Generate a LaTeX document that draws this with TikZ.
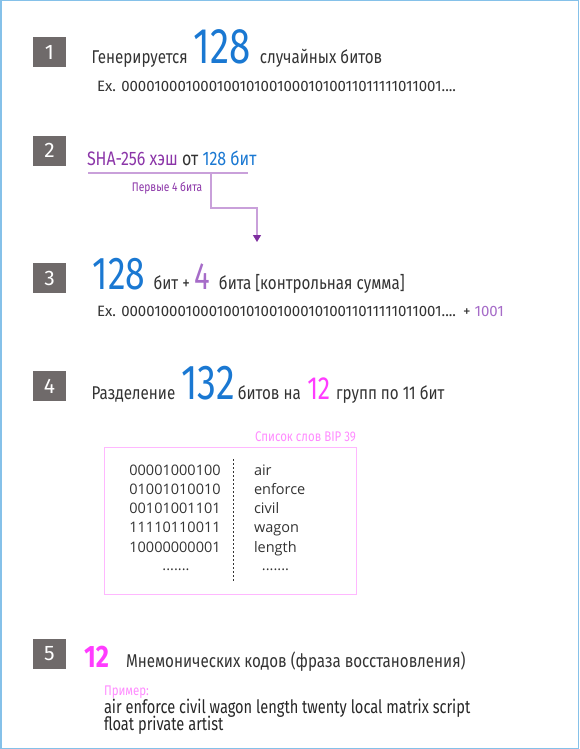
\documentclass[tikz,border=0pt]{standalone}
\usepackage{fontspec}
\setmainfont{Fira Sans}[FakeStretch=0.82]
\newfontfamily\plainfont{Fira Sans}
\newfontfamily\numfont{Fira Sans}[FakeStretch=0.77]
\newfontfamily\listfont{Open Sans}
\usetikzlibrary{positioning, arrows.meta}

\definecolor{frameblue}{HTML}{85C1E9}
\definecolor{stepgray}{HTML}{6F6A6A}
\definecolor{textdark}{HTML}{333333}
\definecolor{numblue}{HTML}{1A78D2}
\definecolor{hashpurple}{HTML}{8B35A8}
\definecolor{checkpurple}{HTML}{A66CC8}
\definecolor{linepurple}{HTML}{C9A0DA}
\definecolor{arrowpurple}{HTML}{7F2FA0}
\definecolor{groupmag}{HTML}{FF3CFF}
\definecolor{listpink}{HTML}{FF8CFF}
\definecolor{boxpink}{HTML}{FFB8FF}

\begin{document}
\begin{tikzpicture}[x=1pt, y=-1pt, inner sep=0pt, outer sep=0pt,
    stepbox/.style = {fill=stepgray, text=white, minimum width=33pt, minimum height=30pt,
                      font=\plainfont\fontsize{21}{21}\selectfont},
    head/.style = {text=textdark, font=\fontsize{18.5}{18.5}\selectfont},
    bignum/.style = {text=numblue, font=\numfont\fontsize{50}{50}\selectfont},
    example/.style = {text=textdark, font=\plainfont\fontsize{15}{15}\selectfont, anchor=base west},
    listrow/.style = {text=textdark, font=\listfont\fontsize{14.5}{14.5}\selectfont},
    listbox/.style = {draw=boxpink, line width=1pt, minimum width=252pt, minimum height=147pt},
    pinknote/.style = {text=listpink, font=\fontsize{14}{14}\selectfont}]

    % frame
    \draw[frameblue, line width=1.5pt] (0.75,0.75) rectangle (578.25,748.25);
    \useasboundingbox (0,0) rectangle (579,749);

    % step 1
    \node[stepbox] (s1) at (49.5,52) {1};
    \node[head, anchor=base west] (t1a) at (91.7,63.3) {Генерируется};
    \node[bignum, base right=6pt of t1a] (t1b) {128};
    \node[head, base right=9pt of t1b] (t1c) {случайных битов};
    \node[example] (e1) at (97,92) {Ex. 0000100010001001010010001010011011111011001....};

    % step 2
    \node[stepbox] (s2) at (49.5,150.5) {2};
    \node[head, anchor=base west, font=\fontsize{19.5}{19.5}\selectfont] (t2) at (87,165.7)
        {{\color{hashpurple}SHA-256 хэш} от {\color{numblue}128 бит}};
    \coordinate (hashL) at (88,173);
    \coordinate (hashR) at (248,173);
    \coordinate (tap) at (211,173);
    \coordinate (knee) at (257,208);
    \coordinate (drop) at (257,242);
    \draw[linepurple, line width=1.3pt] (hashL) -- (hashR);
    \node[text=hashpurple, font=\fontsize{12.5}{12.5}\selectfont] (first4) at (167,188) {Первые 4 бита};
    \draw[linepurple, line width=1.2pt, -{Triangle[color=arrowpurple, width=8pt, length=7pt]}]
        (tap) |- (knee) -- (drop);

    % step 3
    \node[stepbox] (s3) at (49.5,278) {3};
    \node[bignum, anchor=base west, font=\numfont\fontsize{46}{46}\selectfont] (t3a) at (92.7,289.3) {128};
    \node[head, base right=8.5pt of t3a] (t3b) {бит +};
    \node[bignum, text=checkpurple, font=\numfont\fontsize{38}{38}\selectfont, base right=4.5pt of t3b] (t3c) {4};
    \node[head, base right=9pt of t3c] (t3d) {бита [контрольная сумма]};
    \node[example] (e3) at (97,316) {Ex. 0000100010001001010010001010011011111011001....};
    \node[example, base right=7pt of e3] (e3b) {+ {\color{checkpurple}1001}};

    % step 4
    \node[stepbox] (s4) at (49.5,386) {4};
    \node[head, anchor=base west] (t4a) at (91.7,399) {Разделение};
    \node[bignum, font=\numfont\fontsize{49}{49}\selectfont, base right=6pt of t4a] (t4b) {132};
    \node[head, base right=3pt of t4b] (t4c) {битов на};
    \node[bignum, text=groupmag, font=\numfont\fontsize{32}{32}\selectfont, base right=6.5pt of t4c] (t4d) {12};
    \node[head, base right=6pt of t4d] (t4e) {групп по 11 бит};

    % BIP 39 word list
    \node[listbox] (bip) at (230,520.5) {};
    \node[pinknote, anchor=base east] (biptitle) at ([yshift=5.5pt]bip.north east) {Список слов BIP 39};
    \coordinate (sepTop) at (233,459);
    \coordinate (sepBot) at (233,582);
    \draw[textdark, line width=0.8pt, dash pattern=on 2pt off 2pt] (sepTop) -- (sepBot);
    \foreach \bits/\word [count=\i] in {00001000100/air, 01001010010/enforce, 00101001101/civil,
                                        11110110011/wagon, 10000000001/length} {
        \node[listrow, anchor=base] (b\i) at (175,456+19.2*\i) {\bits};
        \node[listrow, anchor=base west] (w\i) at (254,456+19.2*\i) {\word};
    }
    \node[listrow, anchor=base] (bdots) at (176,570) {.......};
    \node[listrow, anchor=base] (wdots) at (275.5,570) {.......};

    % step 5
    \node[stepbox] (s5) at (49.5,654) {5};
    \node[bignum, text=groupmag, font=\bfseries\fontsize{31}{31}\selectfont, anchor=base west] (t5a) at (84,667.5) {12};
    \node[head, anchor=base west] (t5b) at (126,667.5) {Мнемонических кодов (фраза восстановления)};
    \node[pinknote, anchor=base west] (t5c) at (104,695) {Пример:};
    \node[head, text=black!85, font=\fontsize{18.5}{18.5}\selectfont, anchor=base west] (phr1) at (104,713.3)
        {\addfontfeature{FakeStretch=0.79}air enforce civil wagon length twenty local matrix script};
    \node[head, text=black!85, anchor=base west] (phr2) at ([yshift=-17pt]phr1.base west)
        {\addfontfeature{FakeStretch=0.79}float private artist};
\end{tikzpicture}
\end{document}
